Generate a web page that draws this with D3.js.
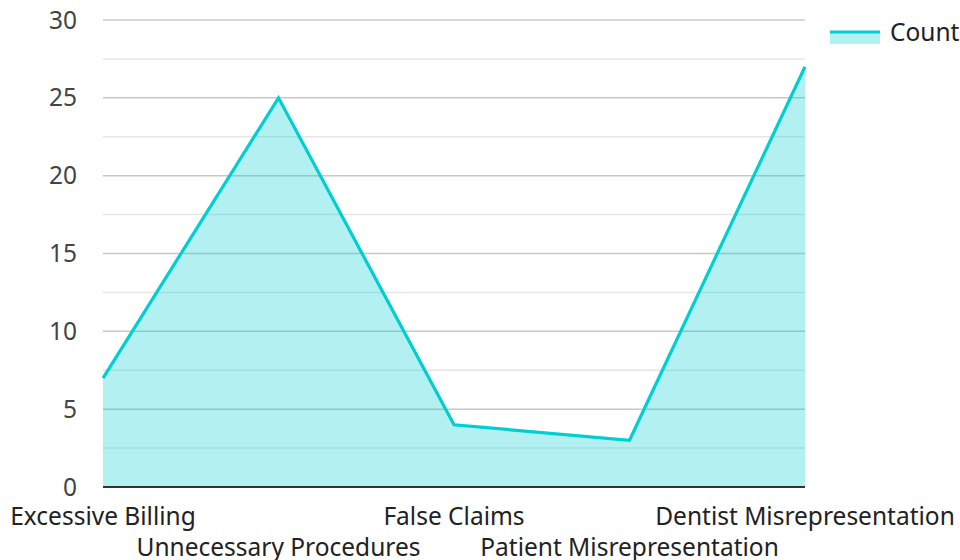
<!DOCTYPE html>
<html><head><meta charset="utf-8">
<script src="https://cdn.jsdelivr.net/npm/d3@7/dist/d3.min.js"></script>
<style>
body{margin:0;background:#fff;}
text{font-family:"Noto Sans","Open Sans",sans-serif;}
</style></head>
<body><svg id="c" width="960" height="560"></svg>
<script>
const categories = ["Excessive Billing","Unnecessary Procedures","False Claims","Patient Misrepresentation","Dentist Misrepresentation"];
const counts = [7, 25, 4, 3, 27];
const yTicks = [0, 5, 10, 15, 20, 25, 30];
const yMinorTicks = [2.5, 7.5, 12.5, 17.5, 22.5, 27.5];
const seriesName = "Count";

(function(){
const svg = d3.select("#c");
const pLeft = 103, pRight = 805, pTop = 20, pBottom = 487;
const x = d3.scalePoint().domain(categories).range([pLeft, pRight]).padding(0);
const y = d3.scaleLinear().domain([0, 30]).range([pBottom, pTop]);
const color = "#00CED1";
const fs = 24.5;

// grid
svg.append("g").selectAll("line").data(yMinorTicks).join("line")
  .attr("x1", pLeft).attr("x2", pRight).attr("y1", d => y(d)).attr("y2", d => y(d))
  .attr("stroke", "#e6e6e6").attr("stroke-width", 1.5);
svg.append("g").selectAll("line").data(yTicks.filter(d => d > 0)).join("line")
  .attr("x1", pLeft).attr("x2", pRight).attr("y1", d => y(d)).attr("y2", d => y(d))
  .attr("stroke", "#c8c8c8").attr("stroke-width", 1.5);

// y labels
svg.append("g").selectAll("text").data(yTicks).join("text")
  .attr("x", 77).attr("y", d => y(d)).attr("dy", "0.35em")
  .attr("text-anchor", "end").attr("font-size", fs).attr("fill", "#444")
  .text(d => d);

const data = categories.map((c, i) => ({c, v: counts[i]}));
svg.append("path").datum(data)
  .attr("d", d3.area().x(d => x(d.c)).y0(y(0)).y1(d => y(d.v)))
  .attr("fill", color).attr("fill-opacity", 0.3);
svg.append("path").datum(data)
  .attr("d", d3.line().x(d => x(d.c)).y(d => y(d.v)))
  .attr("fill", "none").attr("stroke", color).attr("stroke-width", 3.2).attr("stroke-linejoin", "miter");

// x axis line
svg.append("line").attr("x1", pLeft).attr("x2", pRight).attr("y1", pBottom).attr("y2", pBottom)
  .attr("stroke", "#333").attr("stroke-width", 2);

// x labels
svg.append("g").selectAll("text").data(categories).join("text")
  .attr("x", d => x(d)).attr("y", (d, i) => i % 2 === 0 ? 516 : 547).attr("dy", "0.35em")
  .attr("text-anchor", "middle").attr("font-size", fs).attr("fill", "#222")
  .text(d => d);

// legend
const lg = svg.append("g");
lg.append("rect").attr("x", 830).attr("y", 32).attr("width", 50).attr("height", 12)
  .attr("fill", color).attr("fill-opacity", 0.3);
lg.append("line").attr("x1", 830).attr("x2", 880).attr("y1", 32).attr("y2", 32)
  .attr("stroke", color).attr("stroke-width", 3);
lg.append("text").attr("x", 890).attr("y", 32).attr("dy", "0.35em")
  .attr("font-size", fs).attr("fill", "#222").text(seriesName);
})();
</script></body></html>
